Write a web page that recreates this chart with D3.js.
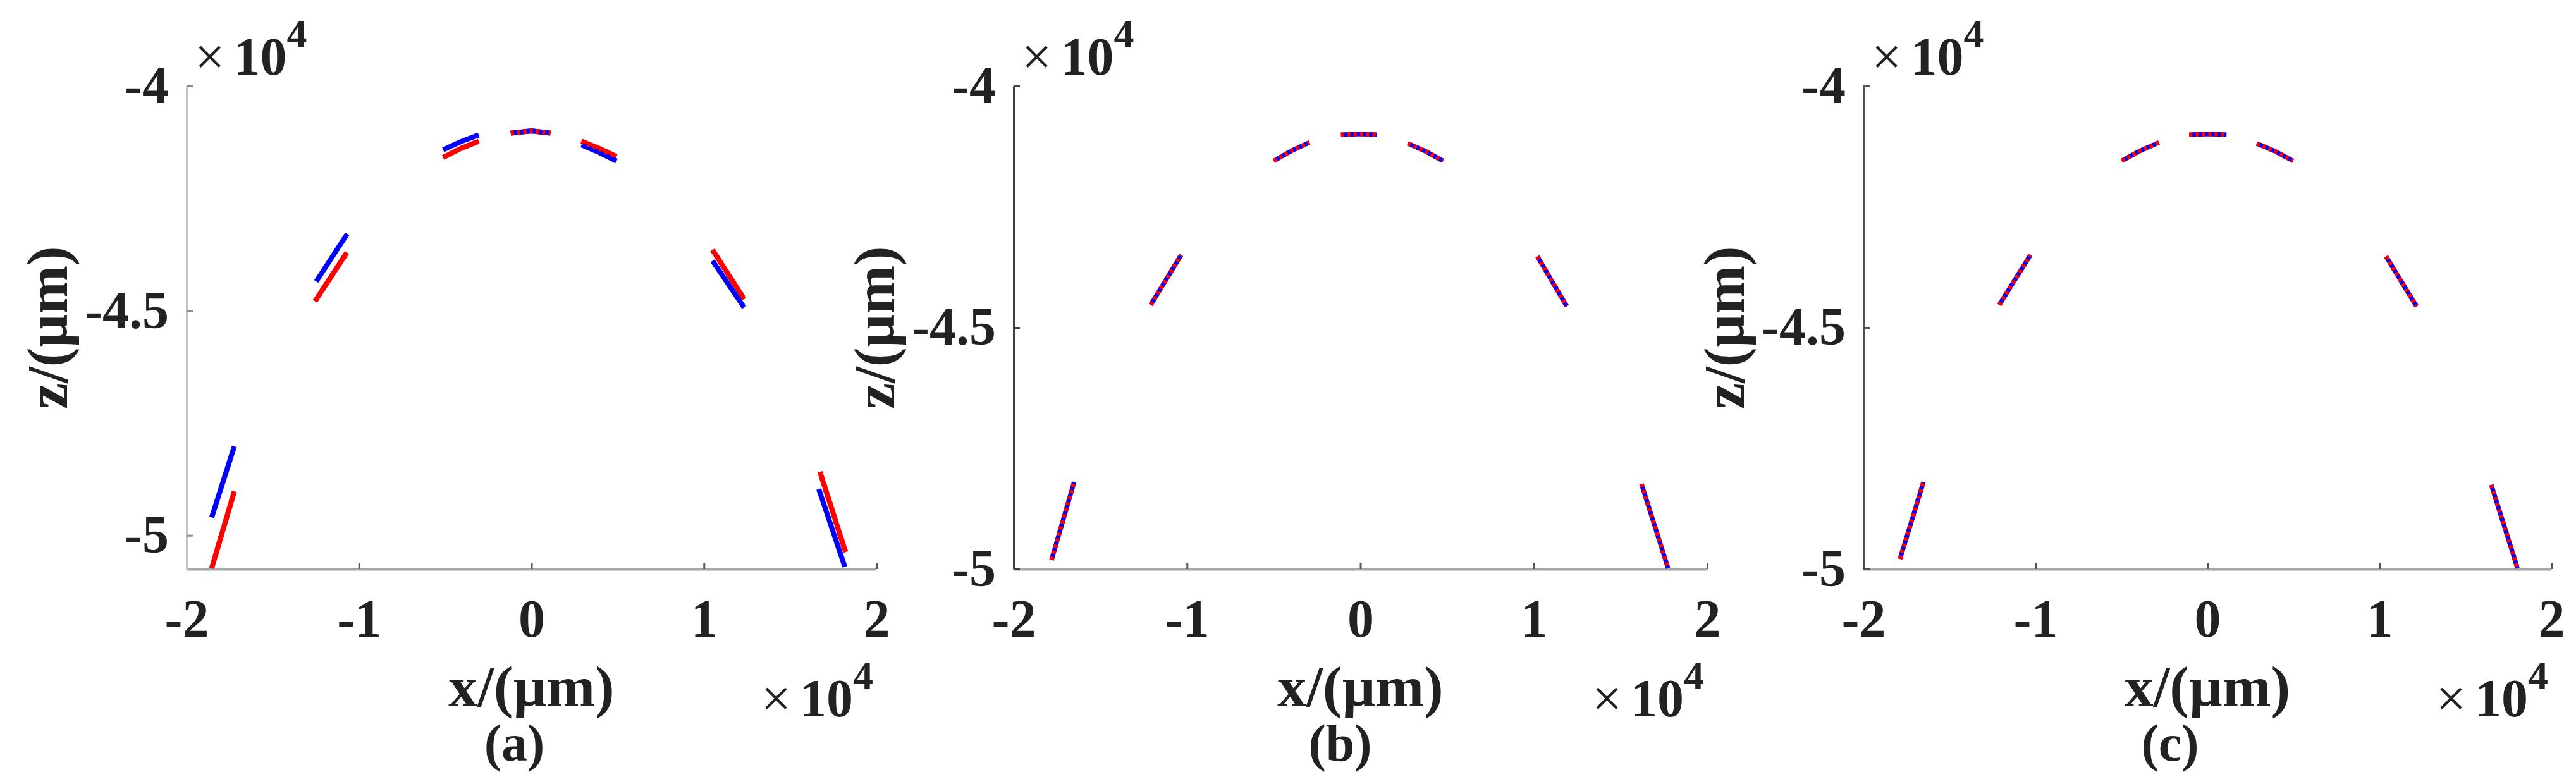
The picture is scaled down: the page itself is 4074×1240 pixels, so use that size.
<!DOCTYPE html>
<html>
<head>
<meta charset="utf-8">
<script src="https://cdn.jsdelivr.net/npm/d3@7"></script>
<style>
  html, body { margin: 0; padding: 0; background: #ffffff; }
  svg { display: block; }
</style>
</head>
<body>
<script>
// ---------------- DATA (x and z in units of 1e4 µm) ----------------
const panelNames = ["(a)", "(b)", "(c)"];
const xTickValues = [-2, -1, 0, 1, 2];
const xTickLabels = ["-2", "-1", "0", "1", "2"];
const zTickValues = [-5, -4.5, -4];
const zTickLabels = ["-5", "-4.5", "-4"];
const xDomain = [-2, 2];
const zDomainA = [-5.075, -4];
const zDomainB = [-5, -4];
const zDomainC = [-5, -4];

// panel (a): seven arc pieces for each series
const redA = [
  [[-1.854, -5.073], [-1.723, -4.902]],
  [[-1.255, -4.479], [-1.071, -4.371]],
  [[-0.512, -4.159], [-0.410, -4.139], [-0.306, -4.123]],
  [[-0.120, -4.105], [0.000, -4.100], [0.110, -4.105]],
  [[0.290, -4.123], [0.392, -4.139], [0.493, -4.157]],
  [[1.050, -4.365], [1.233, -4.474]],
  [[1.673, -4.859], [1.821, -5.037]]
];
const blueA = [
  [[-1.854, -4.960], [-1.723, -4.802]],
  [[-1.248, -4.435], [-1.068, -4.329]],
  [[-0.512, -4.142], [-0.410, -4.124], [-0.306, -4.109]],
  [[-0.120, -4.105], [0.000, -4.100], [0.110, -4.105]],
  [[0.290, -4.131], [0.392, -4.148], [0.493, -4.167]],
  [[1.050, -4.389], [1.233, -4.493]],
  [[1.666, -4.897], [1.817, -5.070]]
];
// panel (b)
const redB = [
  [[-1.781, -4.981], [-1.651, -4.820]],
  [[-1.209, -4.453], [-1.034, -4.350]],
  [[-0.499, -4.155], [-0.397, -4.134], [-0.294, -4.117]],
  [[-0.112, -4.101], [0.000, -4.099], [0.096, -4.101]],
  [[0.274, -4.119], [0.375, -4.135], [0.476, -4.155]],
  [[1.021, -4.353], [1.190, -4.456]],
  [[1.621, -4.824], [1.774, -4.998]]
];
const blueB = [
  [[-1.781, -4.981], [-1.651, -4.820]],
  [[-1.209, -4.453], [-1.034, -4.350]],
  [[-0.499, -4.155], [-0.397, -4.134], [-0.294, -4.117]],
  [[-0.112, -4.101], [0.000, -4.099], [0.096, -4.101]],
  [[0.274, -4.119], [0.375, -4.135], [0.476, -4.155]],
  [[1.021, -4.353], [1.190, -4.456]],
  [[1.621, -4.824], [1.774, -4.998]]
];
// panel (c)
const redC = [
  [[-1.787, -4.979], [-1.651, -4.820]],
  [[-1.210, -4.453], [-1.029, -4.350]],
  [[-0.498, -4.155], [-0.390, -4.134], [-0.282, -4.117]],
  [[-0.105, -4.101], [0.003, -4.099], [0.111, -4.101]],
  [[0.288, -4.119], [0.393, -4.135], [0.498, -4.155]],
  [[1.039, -4.353], [1.216, -4.456]],
  [[1.651, -4.826], [1.803, -4.998]]
];
const blueC = [
  [[-1.787, -4.979], [-1.651, -4.820]],
  [[-1.210, -4.453], [-1.029, -4.350]],
  [[-0.498, -4.155], [-0.390, -4.134], [-0.282, -4.117]],
  [[-0.105, -4.101], [0.003, -4.099], [0.111, -4.101]],
  [[0.288, -4.119], [0.393, -4.135], [0.498, -4.155]],
  [[1.039, -4.353], [1.216, -4.456]],
  [[1.651, -4.826], [1.803, -4.998]]
];
const xLabelText = "x/(µm)";
const zLabelText = "z/(µm)";

// ---------------- LAYOUT ----------------
const W = 4074, H = 1240;
const FONT = "'Liberation Serif','Times New Roman',serif";
const TXT = "#222222";
const plotTop = 136, plotBottom = 900;

const panels = [
  { name: panelNames[0], left: 295, right: 1386, zDomain: zDomainA, red: redA, blue: blueA,
    yAxisColor: "#c4c4c4", lw: 8, capOffset: -27 },
  { name: panelNames[1], left: 1603, right: 2700, zDomain: zDomainB, red: redB, blue: blueB,
    yAxisColor: "#404040", lw: 7, capOffset: -32 },
  { name: panelNames[2], left: 2947, right: 4035, zDomain: zDomainC, red: redC, blue: blueC,
    yAxisColor: "#505050", lw: 7, capOffset: -59 }
];

const svg = d3.select("body").append("svg")
  .attr("width", W).attr("height", H)
  .attr("viewBox", `0 0 ${W} ${H}`);
svg.append("rect").attr("width", W).attr("height", H).attr("fill", "#ffffff");

panels.forEach((p, i) => {
  const x = d3.scaleLinear().domain(xDomain).range([p.left, p.right]);
  const y = d3.scaleLinear().domain(p.zDomain).range([plotBottom, plotTop]);
  const g = svg.append("g").attr("class", "panel-" + i);

  // clip
  const clipId = "clip" + i;
  svg.append("clipPath").attr("id", clipId).append("rect")
    .attr("x", p.left).attr("y", plotTop).attr("width", p.right - p.left).attr("height", plotBottom - plotTop);

  // x axis
  const xAxis = d3.axisBottom(x)
    .tickValues(xTickValues)
    .tickFormat((d, k) => xTickLabels[k])
    .tickSizeInner(-10).tickSizeOuter(0).tickPadding(47);
  const gx = g.append("g").attr("transform", `translate(0,${plotBottom})`).call(xAxis)
    .attr("font-family", FONT);
  gx.select(".domain").attr("stroke", "#a6a6a6").attr("stroke-width", 4);
  gx.selectAll(".tick line").attr("stroke", "#555555").attr("stroke-width", 3);
  gx.selectAll(".tick text").attr("fill", TXT).attr("font-family", FONT)
    .attr("font-weight", "bold").attr("font-size", 84);

  // y axis
  const yAxis = d3.axisLeft(y)
    .tickValues(zTickValues)
    .tickFormat((d, k) => zTickLabels[k])
    .tickSizeInner(-10).tickSizeOuter(0).tickPadding(28);
  const gy = g.append("g").attr("transform", `translate(${p.left},0)`).call(yAxis)
    .attr("font-family", FONT);
  gy.select(".domain").attr("stroke", p.yAxisColor).attr("stroke-width", 3);
  gy.selectAll(".tick line").attr("stroke", i === 0 ? "#8a8a8a" : p.yAxisColor).attr("stroke-width", 3);
  gy.selectAll(".tick text").attr("fill", TXT).attr("font-family", FONT)
    .attr("font-weight", "bold").attr("font-size", 84);

  // lines
  const line = d3.line().x(d => x(d[0])).y(d => y(d[1]));
  const lg = g.append("g").attr("clip-path", `url(#${clipId})`);
  lg.selectAll("path.red-solid").data(p.red).join("path")
    .attr("class", "red-solid").attr("d", line)
    .attr("fill", "none").attr("stroke", "#ff0000").attr("stroke-width", p.lw);
  lg.selectAll("path.blue-solid").data(p.blue).join("path")
    .attr("class", "blue-solid").attr("d", line)
    .attr("fill", "none").attr("stroke", "#0000ff").attr("stroke-width", p.lw);
  lg.selectAll("path.red-dot").data(p.red).join("path")
    .attr("class", "red-dot").attr("d", line)
    .attr("fill", "none").attr("stroke", "#ff0000").attr("stroke-width", p.lw)
    .attr("stroke-dasharray", "5,5");

  // exponent top-left
  const eTop = g.append("text").attr("x", p.left + 13).attr("y", 118)
    .attr("font-family", FONT).attr("fill", TXT).attr("font-size", 84);
  eTop.append("tspan").attr("font-weight", "normal").text("×");
  eTop.append("tspan").attr("dx", 14).attr("font-weight", "bold").text("10");
  eTop.append("tspan").attr("dy", -43).attr("font-weight", "bold").attr("font-size", 64).text("4");

  // exponent bottom-right
  const eBot = g.append("text").attr("x", p.right - 5).attr("y", 1133)
    .attr("text-anchor", "end")
    .attr("font-family", FONT).attr("fill", TXT).attr("font-size", 84);
  eBot.append("tspan").attr("font-weight", "normal").text("×");
  eBot.append("tspan").attr("dx", 14).attr("font-weight", "bold").text("10");
  eBot.append("tspan").attr("dy", -43).attr("font-weight", "bold").attr("font-size", 64).text("4");

  // x label
  g.append("text").attr("x", x(0)).attr("y", 1117)
    .attr("text-anchor", "middle").attr("font-family", FONT)
    .attr("font-weight", "bold").attr("font-size", 92).attr("fill", TXT)
    .text(xLabelText);

  // panel caption
  g.append("text").attr("x", x(0) + p.capOffset).attr("y", 1203)
    .attr("text-anchor", "middle").attr("font-family", FONT)
    .attr("font-weight", "bold").attr("font-size", 82).attr("fill", TXT)
    .text(p.name);

  // z label
  g.append("text")
    .attr("transform", `translate(${p.left - 189},${(plotTop + plotBottom) / 2}) rotate(-90)`)
    .attr("text-anchor", "middle").attr("font-family", FONT)
    .attr("font-weight", "bold").attr("font-size", 92).attr("fill", TXT)
    .text(zLabelText);
});
</script>
</body>
</html>
